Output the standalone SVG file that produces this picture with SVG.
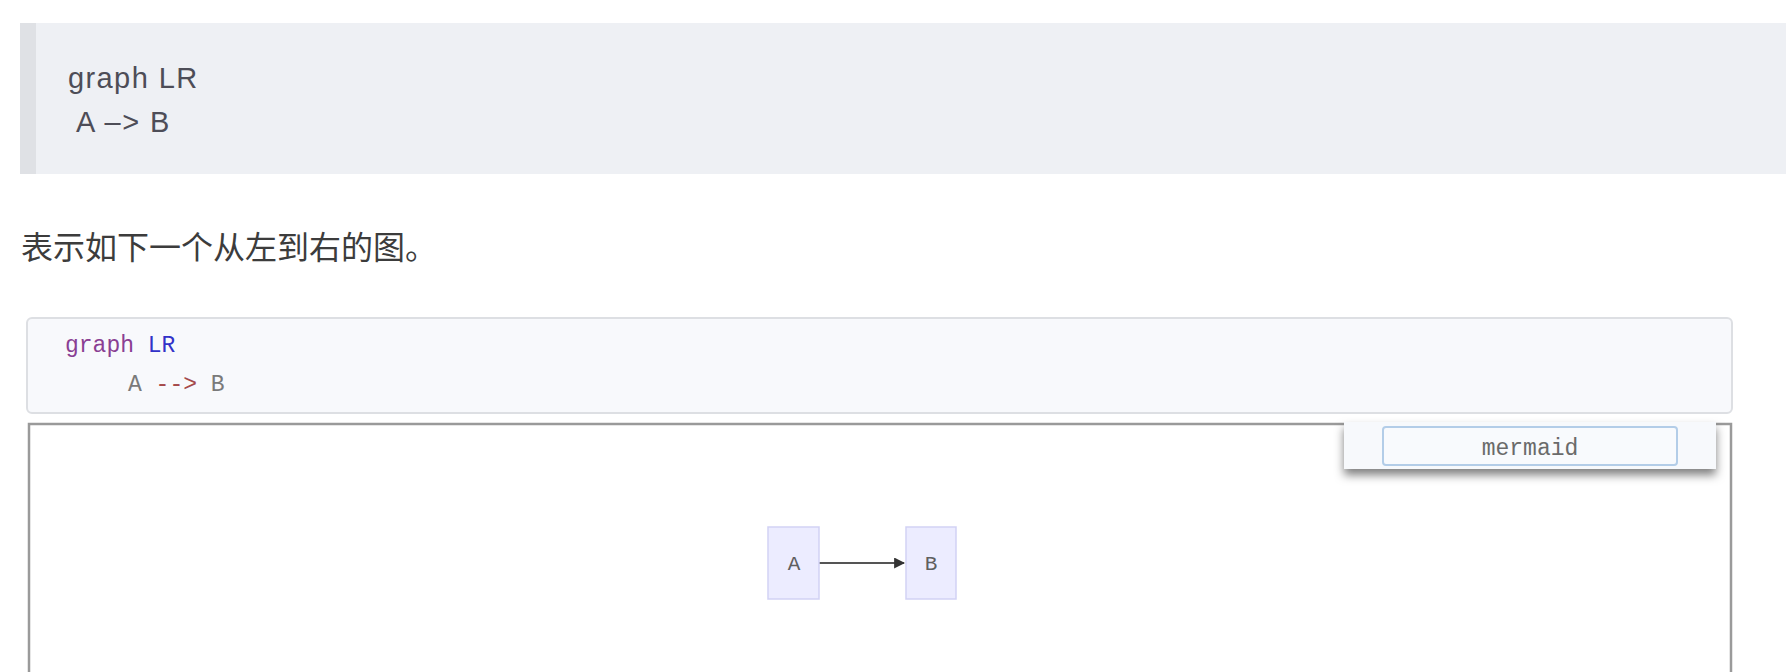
<svg xmlns="http://www.w3.org/2000/svg" width="1786" height="672" viewBox="0 0 1786 672">
<style>
.body{font-family:"Liberation Sans",Arial,sans-serif;fill:#4d4d57;font-size:29px;letter-spacing:1.4px}
.cn{font-family:"Liberation Sans","Noto Sans CJK SC",sans-serif;fill:#3c3c3c;font-size:32px}
.mono{font-family:"Liberation Mono","Courier New",monospace;font-size:23px}
.node rect{fill:#ececff;stroke:#d2d2f5;stroke-width:1.5}
.node text{font-family:"Liberation Mono","Courier New",monospace;font-size:21px;fill:#5f5f5f;text-anchor:middle}
</style>
<defs>
<marker id="arrow" viewBox="0 0 10 10" refX="9" refY="5" markerWidth="5.5" markerHeight="5.5" orient="auto" markerUnits="strokeWidth">
<path d="M0,0 L10,5 L0,10 z" fill="#333"/>
</marker>
<filter id="shadow" x="-10%" y="-30%" width="120%" height="190%">
<feDropShadow dx="0" dy="6" stdDeviation="5" flood-color="#000" flood-opacity="0.5"/>
</filter>
</defs>
<rect width="1786" height="672" fill="#fff"/>
<g id="quote">
<rect x="20" y="23" width="1766" height="151" fill="#eef0f4"/>
<rect x="20" y="23" width="16" height="151" fill="#dfe1e5"/>
<text class="body" x="68" y="88">graph LR</text>
<text class="body" x="76" y="132">A –&gt; B</text>
</g>
<g id="caption">
<text class="cn" x="21" y="259">表示如下一个从左到右的图。</text>
</g>
<g id="code">
<rect x="27" y="318" width="1705" height="95" rx="5" fill="#f8f9fc" stroke="#dddfe3" stroke-width="2"/>
<text class="mono" x="65" y="352"><tspan fill="#8a3f93">graph</tspan><tspan fill="#3232c8"> LR</tspan></text>
<text class="mono" x="128" y="391"><tspan fill="#7a7a7a">A</tspan><tspan fill="#a54a4a"> --&gt;</tspan><tspan fill="#7a7a7a"> B</tspan></text>
</g>
<g id="container">
<rect x="29" y="424" width="1702" height="300" fill="#fff" stroke="#9a9a9a" stroke-width="2.5"/>
</g>
<g id="connectors">
<line x1="819" y1="563" x2="904" y2="563" stroke="#555" stroke-width="2" marker-end="url(#arrow)"/>
</g>
<g id="node-A" class="node">
<rect x="768" y="527" width="51" height="72"/>
<text x="794" y="570">A</text>
</g>
<g id="node-B" class="node">
<rect x="906" y="527" width="50" height="72"/>
<text x="931" y="570">B</text>
</g>
<g id="popup">
<rect x="1344" y="422" width="372" height="47" fill="#f7f9fc" filter="url(#shadow)"/>
<rect x="1383" y="427" width="294" height="38" rx="3" fill="#f8fafd" stroke="#b3cde8" stroke-width="2"/>
<text x="1530" y="455" class="mono" fill="#6a6a6a" font-size="21" text-anchor="middle">mermaid</text>
</g>
</svg>
